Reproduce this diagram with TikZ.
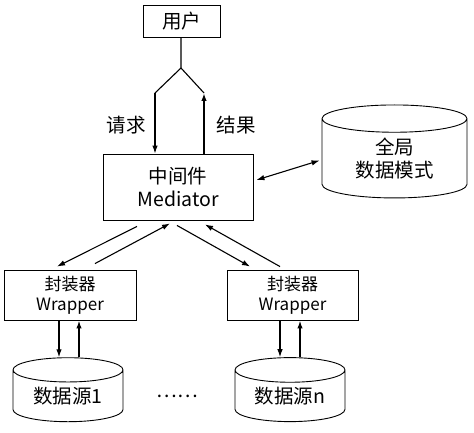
\documentclass[tikz,border=0pt]{standalone}
\usepackage{fontspec}
\setmainfont{Noto Sans CJK SC}
\usetikzlibrary{shapes.geometric,arrows.meta}
\tikzset{
    box/.style={draw, line width=0.9pt, inner sep=0pt, align=center},
    store/.style={cylinder, shape border rotate=90, draw, line width=0.9pt,
        inner sep=0pt, align=center, aspect=0.35},
    arr/.style={line width=1.1pt, -{Latex[length=8pt,width=5.5pt]}},
    uparr/.style={arr, line width=1.6pt},
    big/.style={font=\fontsize{19.5pt}{23pt}\selectfont},
    small/.style={font=\fontsize{17pt}{20pt}\selectfont}
}
\begin{document}
\begin{tikzpicture}[x=1pt,y=-1pt]
    \useasboundingbox (0,0) rectangle (474,433);
    % nodes
    \node[box, big, minimum width=77pt, minimum height=32pt] (user) at (181.5,21) {用户};
    \node[box, big, minimum width=150pt, minimum height=66pt] (med) at (178,187) {中间件\\Mediator};
    \node[store, big, minimum width=145pt, minimum height=93pt] (schema) at (394.5,158.5) {全局\\数据模式};
    \node[box, small, minimum width=132pt, minimum height=50pt] (wrapL) at (70,295) {封装器\\Wrapper};
    \node[box, small, minimum width=131pt, minimum height=50pt] (wrapR) at (292.5,295) {封装器\\Wrapper};
    \node[store, big, minimum width=110pt, minimum height=64pt] (srcL) at (68,396) {数据源1};
    \node[store, big, minimum width=110pt, minimum height=64pt] (srcR) at (290,396) {数据源n};
    \node[big] (dots) at (177,396) {……};
    % user <-> mediator
    \coordinate (fork) at (181,68);
    \coordinate (reqbend) at (155,93);
    \coordinate (resbend) at (204,93);
    \draw[line width=1.1pt] (user.south -| fork) -- (fork) -- (reqbend);
    \draw[arr] (reqbend) -- (reqbend |- med.north);
    \draw[line width=1.1pt] (fork) -- (resbend);
    \draw[uparr] (resbend |- med.north) -- (resbend);
    \node[big] (req) at (126,125) {请求};
    \node[big] (res) at (236,125) {结果};
    % mediator <-> schema
    \draw[line width=1.1pt, {Latex[length=8pt,width=5.5pt]}-{Latex[length=8pt,width=5.5pt]}]
        ([shift={(3,-7)}]med.east) -- ([shift={(-2,2)}]schema.west);
    % mediator <-> wrappers
    \draw[arr] ([shift={(-41,6)}]med.south) -- ([shift={(-13,-3)}]wrapL.north);
    \draw[arr] ([shift={(25,-6)}]wrapL.north) -- ([shift={(-8,3)}]med.south);
    \draw[arr] ([shift={(-1,5)}]med.south) -- ([shift={(-42.5,-3)}]wrapR.north);
    \draw[arr] ([shift={(-12.5,-3)}]wrapR.north) -- ([shift={(27,4)}]med.south);
    % wrappers <-> sources
    \draw[arr] ([xshift=-11pt]wrapL.south) -- ([xshift=-11pt]wrapL.south |- srcL.north);
    \draw[uparr] ([xshift=9pt]wrapL.south |- srcL.north) -- ([xshift=9pt]wrapL.south);
    \draw[arr] ([xshift=-12.5pt]wrapR.south) -- ([xshift=-12.5pt]wrapR.south |- srcR.north);
    \draw[uparr] ([xshift=7.5pt]wrapR.south |- srcR.north) -- ([xshift=7.5pt]wrapR.south);
\end{tikzpicture}
\end{document}
